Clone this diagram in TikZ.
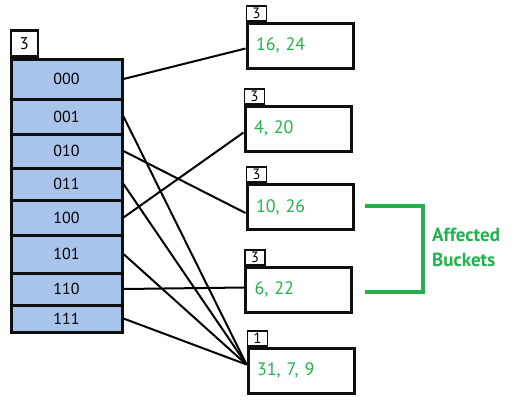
\documentclass[tikz,border=0pt]{standalone}
\usepackage{fontspec}
\setmainfont{PT Sans}
\definecolor{cellblue}{RGB}{169,196,235}
\definecolor{bgreen}{RGB}{34,177,76}
\definecolor{edge}{RGB}{15,15,15}
\begin{document}
\begin{tikzpicture}[x=1pt,y=-1pt,
  cell/.style={draw=edge,line width=3pt,fill=cellblue,minimum width=111pt,inner sep=0pt,
    font=\fontsize{16}{18}\selectfont},
  dirlabel/.style={draw=edge,line width=2.5pt,fill=white,minimum width=27pt,minimum height=26pt,
    inner sep=0pt,anchor=south west,font=\fontsize{17}{18}\selectfont},
  bucket/.style={draw=edge,line width=3pt,fill=white,minimum width=106pt,minimum height=45pt,
    inner xsep=9pt,inner ysep=0pt,text width=88pt,align=left,text=bgreen,
    font=\fontsize{18}{20}\selectfont},
  blabel/.style={draw=edge,line width=1.8pt,fill=white,minimum width=20pt,minimum height=15pt,
    inner sep=0pt,anchor=south west,font=\fontsize{15}{15}\selectfont},
  link/.style={draw=black,line width=2pt},
  bracket/.style={draw=bgreen,line width=4pt},
  note/.style={text=bgreen,align=left,anchor=west,inner sep=0pt,
    font=\fontsize{19}{25}\selectfont\bfseries}]
\useasboundingbox (0,0) rectangle (518,400);
% directory
\node[cell,minimum height=40pt] (c000) at (66.5,79) {000};
\node[cell,minimum height=35pt] (c001) at (66.5,116.5) {001};
\node[cell,minimum height=34pt] (c010) at (66.5,151) {010};
\node[cell,minimum height=32pt] (c011) at (66.5,184) {011};
\node[cell,minimum height=35pt] (c100) at (66.5,217.5) {100};
\node[cell,minimum height=38pt] (c101) at (66.5,254) {101};
\node[cell,minimum height=32pt] (c110) at (66.5,289) {110};
\node[cell,minimum height=27pt] (c111) at (66.5,318.5) {111};
\node[dirlabel] (gd) at (c000.north west) {3};
% buckets
\node[bucket] (b1) at (300,45.5) {16, 24};
\node[bucket] (b2) at (298,128.5) {4, 20};
\node[bucket] (b3) at (300,207) {10, 26};
\node[bucket] (b4) at (298.5,289.5) {6, 22};
\node[bucket] (b5) at (301,370.5) {31, 7, 9};
\node[blabel] (l1) at (b1.north west) {3};
\node[blabel] (l2) at (b2.north west) {3};
\node[blabel] (l3) at (b3.north west) {3};
\node[blabel] (l4) at (b4.north west) {3};
\node[blabel] (l5) at (b5.north west) {1};
% connectors
\draw[link] (c000.east) -- ([yshift=-3pt]b1.west);
\draw[link] (c001.east) -- ([yshift=6pt]b5.west);
\draw[link] (c010.east) -- ([yshift=-6pt]b3.west);
\draw[link] (c011.east) -- ([yshift=6pt]b5.west);
\draw[link] (c100.east) -- ([yshift=-4pt]b2.west);
\draw[link] (c101.east) -- ([yshift=6pt]b5.west);
\draw[link] (c110.east) -- ([yshift=2pt]b4.west);
\draw[link] (c111.east) -- ([yshift=6pt]b5.west);
% bracket
\coordinate (br1) at (365,206);
\coordinate (br2) at (423,206);
\coordinate (br3) at (423,292);
\coordinate (br4) at (365,292);
\draw[bracket] (br1) -- (br2) -- (br3) -- (br4);
\node[note] (aff) at (432,247) {Affected\\Buckets};
\end{tikzpicture}
\end{document}
